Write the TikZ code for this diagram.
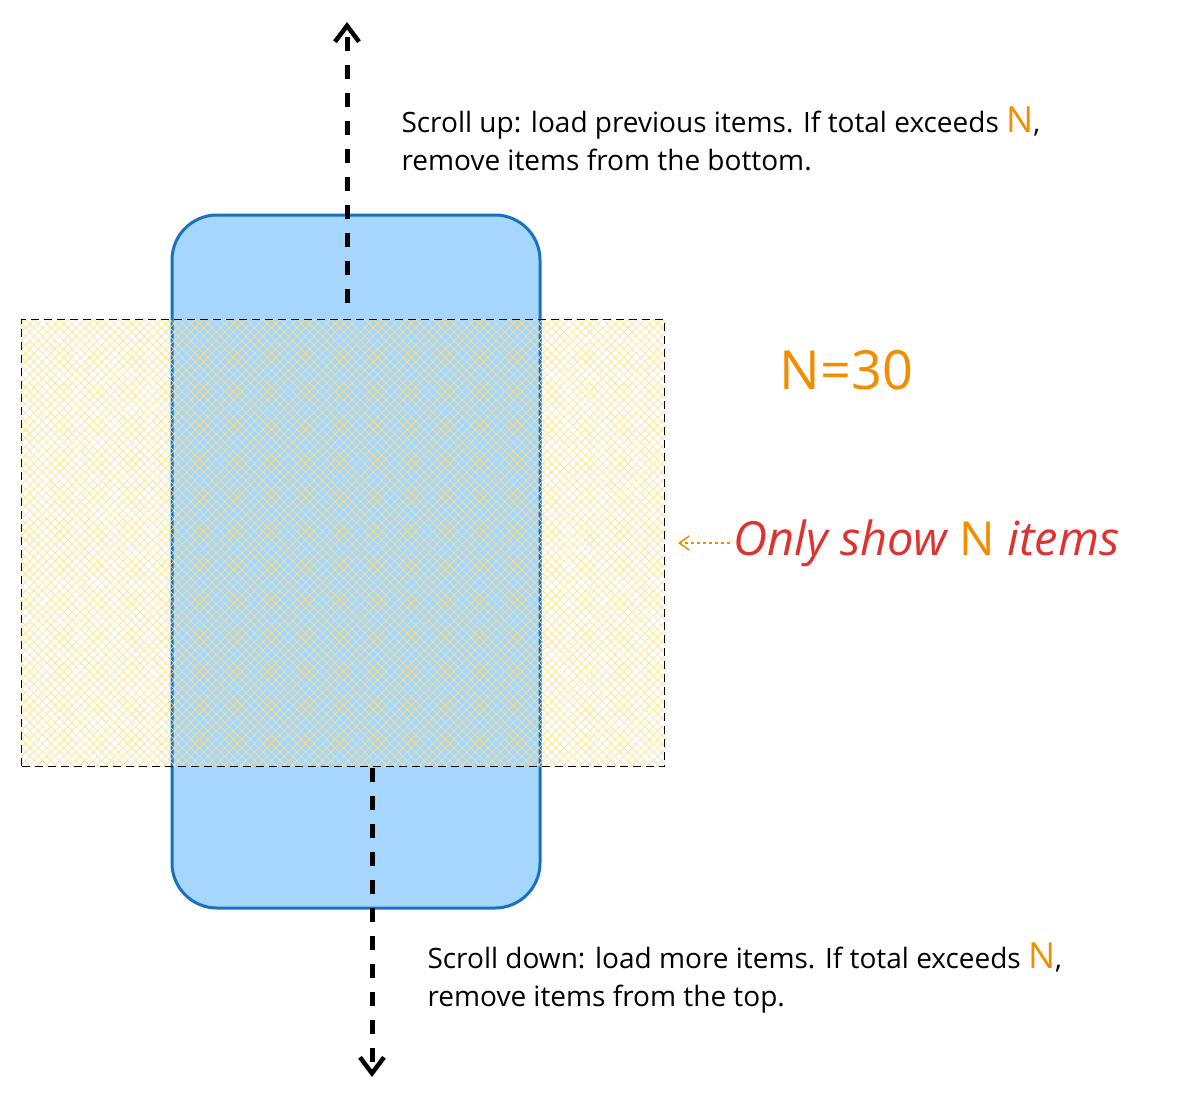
\documentclass[tikz,border=0pt]{standalone}
\usepackage{fontspec}
\setmainfont{Open Sans}
\usetikzlibrary{patterns.meta,arrows.meta}
\definecolor{ob}{RGB}{25,113,194}
\definecolor{fb}{RGB}{166,214,252}
\definecolor{yl}{RGB}{252,226,140}
\definecolor{og}{RGB}{245,140,0}
\definecolor{rd}{RGB}{224,49,49}
\tikzset{
 lbl/.style={anchor=west,align=left,font=\fontsize{28}{38}\selectfont},
 scrollarrow/.style={line width=5pt,dash pattern=on 14pt off 14pt,-{Straight Barb[length=16pt,width=24pt,line width=4.5pt]}}
}
\begin{document}
\begin{tikzpicture}[x=1pt,y=-1pt]
\useasboundingbox (0,0) rectangle (1200,1117);
\draw[ob,line width=3pt,fill=fb,rounded corners=45pt] (172,215) rectangle (540,908);
\path[pattern={Lines[angle=45,distance=6pt,line width=0.7pt]},pattern color=yl] (21,319) rectangle (664,766);
\path[pattern={Lines[angle=-45,distance=6pt,line width=0.7pt]},pattern color=yl] (21,319) rectangle (664,766);
\node[draw,dash pattern=on 8pt off 5pt,line width=1.3pt,minimum width=643pt,minimum height=447pt,inner sep=0,anchor=north west] (box) at (21,319) {};
\coordinate (ut) at (347,303); \coordinate (uh) at (347,22);
\coordinate (dt) at (372,768); \coordinate (dh) at (372,1077);
\draw[scrollarrow] (ut) -- (uh);
\draw[scrollarrow] (dt) -- (dh);
\node[lbl] (up) at (398,139) {Scroll up: load previous items. If total exceeds {\color{og}\fontsize{36}{38}\selectfont N},\\remove items from the bottom.};
\node[lbl] (down) at (424,978) {Scroll down: load more items. If total exceeds {\color{og}\fontsize{36}{38}\selectfont N},\\remove items from the top.};
\node[anchor=west,og,font=\fontsize{54}{58}\selectfont] (n30) at (776,370) {N=30};
\node[anchor=west,rd,font=\fontsize{47}{52}\itshape\selectfont] (only) at (730,543) {Only show {\color{og}\upshape N} items};
\draw[og,line width=1.5pt,dashed,-{Straight Barb[length=10pt,width=14pt]}] (only.west) -- (678,543);
\end{tikzpicture}
\end{document}
